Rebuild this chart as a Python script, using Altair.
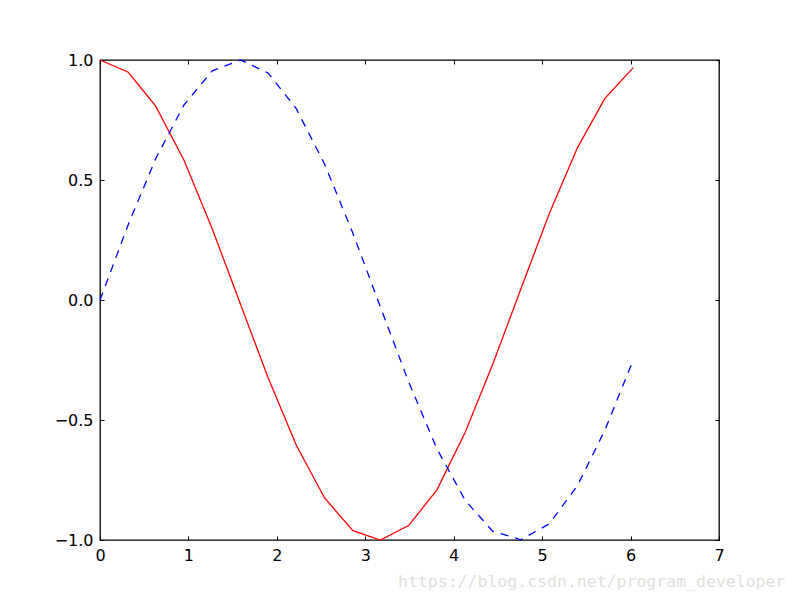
import altair as alt
import pandas as pd

x_vals = [0.00, 0.32, 0.63, 0.95, 1.27, 1.59, 1.90, 2.22, 2.54, 2.86,
          3.17, 3.49, 3.81, 4.13, 4.44, 4.76, 5.08, 5.40, 5.71, 6.03]
cos_vals = [1.000, 0.949, 0.808, 0.582, 0.296, -0.019, -0.323, -0.605, -0.825, -0.961,
            -1.000, -0.940, -0.791, -0.551, -0.269, 0.047, 0.359, 0.635, 0.840, 0.968]
sin_vals = [0.000, 0.315, 0.589, 0.813, 0.955, 1.000, 0.946, 0.797, 0.566, 0.278,
            -0.028, -0.341, -0.620, -0.835, -0.963, -0.999, -0.933, -0.773, -0.542, -0.250]
x_ticks = [0, 1, 2, 3, 4, 5, 6, 7]
y_ticks = [-1.0, -0.5, 0.0, 0.5, 1.0]
watermark = "https://blog.csdn.net/program_developer"

df = pd.DataFrame({"x": x_vals, "cos": cos_vals, "sin": sin_vals})

xs = alt.Scale(domain=[0, 7], nice=False, zero=False)
ys = alt.Scale(domain=[-1, 1], nice=False, zero=False)
FONT = "DejaVu Sans"

def label_axis(orient, fmt, vals):
    return alt.Axis(orient=orient, values=vals, format=fmt, ticks=False, domain=False,
                    grid=False, labelFont=FONT, labelFontSize=16, labelColor="black",
                    labelPadding=7, labelFlush=False, labelOverlap=False, title=None)

def tick_axis(orient, vals):
    return alt.Axis(orient=orient, values=vals, labels=False, domain=False, grid=False,
                    ticks=True, tickSize=4, tickColor="black", tickWidth=1,
                    offset=-4, title=None)

base = alt.Chart(df)

red = base.mark_line(color="red", strokeWidth=1.3).encode(
    x=alt.X("x:Q", scale=xs, axis=label_axis("bottom", "d", x_ticks)),
    y=alt.Y("cos:Q", scale=ys, axis=label_axis("left", ".1f", y_ticks)),
)
blue = base.mark_line(color="blue", strokeWidth=1.3, strokeDash=[8, 7]).encode(
    x=alt.X("x:Q", scale=xs, axis=tick_axis("bottom", x_ticks)),
    y=alt.Y("sin:Q", scale=ys, axis=tick_axis("left", y_ticks)),
)
ghost = base.mark_line(opacity=0).encode(
    x=alt.X("x:Q", scale=xs, axis=tick_axis("top", x_ticks)),
    y=alt.Y("sin:Q", scale=ys, axis=tick_axis("right", y_ticks)),
)
wm = alt.Chart(pd.DataFrame({"t": [watermark]})).mark_text(
    font="DejaVu Sans Mono", fontSize=16.5, color="#e2dfda", align="left", baseline="alphabetic"
).encode(text="t:N", x=alt.value(298), y=alt.value(527))

chart = alt.layer(red, blue, ghost, wm).resolve_axis(
    x="independent", y="independent"
).properties(
    width=619, height=480,
    autosize=alt.AutoSizeParams(type="none"),
    padding={"left": 92, "top": 52, "right": 73, "bottom": 52},
).configure_view(stroke="black", strokeWidth=1.3)

chart.save("out.html", embed_options={"renderer": "svg", "actions": False})
